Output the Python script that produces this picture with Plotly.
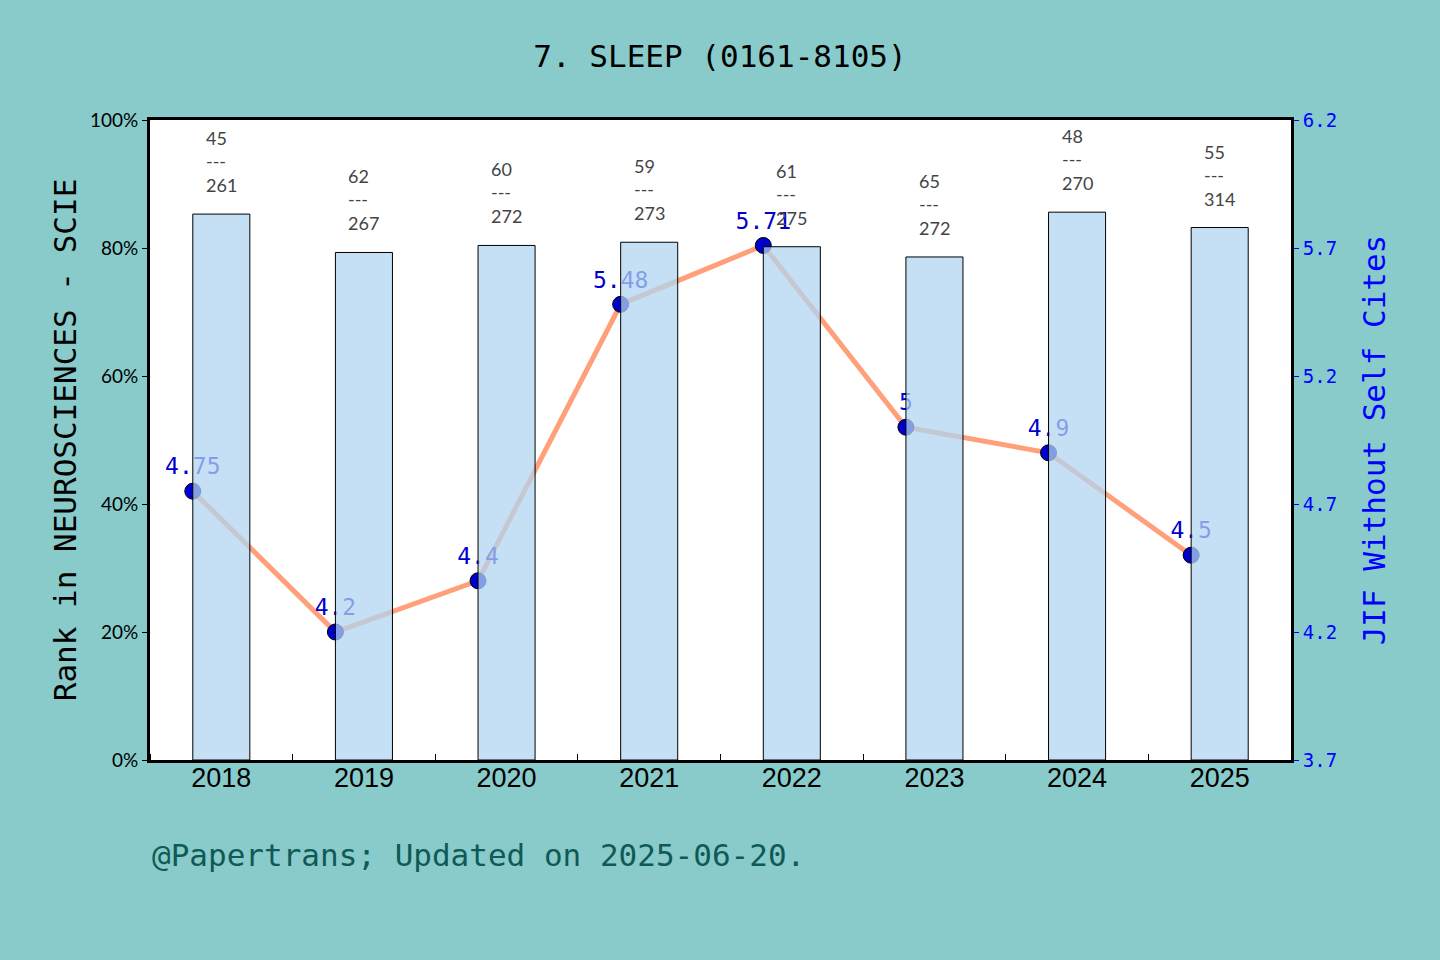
import plotly.graph_objects as go

years = ["2018", "2019", "2020", "2021", "2022", "2023", "2024", "2025"]
rank_pct = [0.853, 0.793, 0.804, 0.809, 0.802, 0.786, 0.856, 0.832]
rank_num = [45, 62, 60, 59, 61, 65, 48, 55]
rank_tot = [261, 267, 272, 273, 275, 272, 270, 314]
jif = [4.75, 4.2, 4.4, 5.48, 5.71, 5.0, 4.9, 4.5]
jif_labels = ["4.75", "4.2", "4.4", "5.48", "5.71", "5", "4.9", "4.5"]

idx = list(range(len(years)))
line_x = [i - 0.2 for i in idx]

MONO = "DejaVu Sans Mono"

fig = go.Figure()

fig.add_trace(go.Scatter(
    x=line_x, y=jif, yaxis="y", mode="lines+markers+text",
    line=dict(color="#FFA07A", width=5),
    marker=dict(color="#0000CD", size=16, line=dict(color="black", width=1)),
    text=jif_labels, textposition="top center",
    textfont=dict(family=MONO, size=23, color="#0000CD"),
    showlegend=False, cliponaxis=False,
))

fig.add_trace(go.Bar(
    x=idx, y=rank_pct, yaxis="y2", width=0.4,
    marker=dict(color="rgba(177,213,242,0.74)", line=dict(color="black", width=1)),
    showlegend=False,
))

for i, p, n, t in zip(idx, rank_pct, rank_num, rank_tot):
    fig.add_annotation(
        x=i, y=p, xref="x", yref="y2", yanchor="bottom", yshift=16,
        text=f"{n}<br>---<br>{t}", showarrow=False, align="left",
        font=dict(family="Lato", size=18, color="#444444"),
    )

fig.add_annotation(
    x=0, y=-(855 - 760) / 640, xref="paper", yref="paper", xanchor="left", yanchor="middle",
    text="@Papertrans; Updated on 2025-06-20.", showarrow=False,
    font=dict(family=MONO, size=31, color="#0F5A55"),
)

fig.update_layout(
    width=1440, height=960,
    paper_bgcolor="#88CBCA", plot_bgcolor="white",
    margin=dict(l=150, r=149, t=120, b=200),
    title=dict(text="7. SLEEP (0161-8105)", x=0.5, xanchor="center", y=0.942, yanchor="middle",
               font=dict(family=MONO, size=31, color="black")),
    xaxis=dict(
        range=[-0.5, 7.5], tickvals=idx, ticktext=years, ticks="",
        tickfont=dict(family="Liberation Sans", size=27, color="black"),
        ticklabelstandoff=-8,
        showline=True, linecolor="black", linewidth=3, mirror=True,
        showgrid=False, zeroline=False,
        minor=dict(tick0=0.5, dtick=1, ticks="inside", ticklen=6, tickcolor="black", tickwidth=1, showgrid=False),
    ),
    yaxis=dict(
        side="right", range=[3.7, 6.2], tickvals=[3.7, 4.2, 4.7, 5.2, 5.7, 6.2],
        ticks="outside", ticklen=5, tickcolor="#0000FF",
        tickfont=dict(family=MONO, size=19, color="#0000FF"),
        title=dict(text="JIF Without Self Cites", font=dict(family=MONO, size=31, color="#0000FF"), standoff=28),
        showgrid=False, zeroline=False, showline=True, linecolor="black", linewidth=3,
    ),
    yaxis2=dict(
        side="left", overlaying="y", range=[0, 1], tickvals=[0, 0.2, 0.4, 0.6, 0.8, 1.0],
        tickformat=".0%", ticks="outside", ticklen=5, tickcolor="black",
        tickfont=dict(family="Lato", size=19, color="black"),
        title=dict(text="Rank in NEUROSCIENCES - SCIE", font=dict(family=MONO, size=31, color="black"), standoff=5),
        showgrid=False, zeroline=False, showline=True, linecolor="black", linewidth=3,
    ),
)

fig.write_html("out.html")
